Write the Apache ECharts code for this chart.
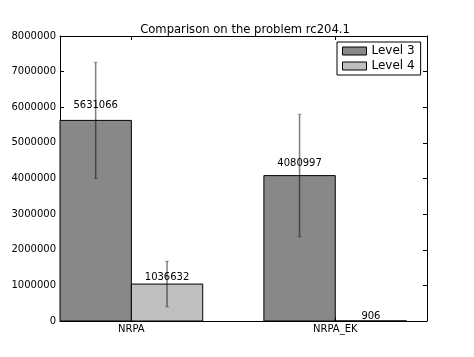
<!DOCTYPE html>
<html><head><meta charset="utf-8">
<script src="https://cdn.jsdelivr.net/npm/echarts@6/dist/echarts.min.js"></script>
<style>html,body{margin:0;padding:0;background:#fff}#c{width:474px;height:357px}</style>
</head><body><div id="c"></div>
<script>
const title = 'Comparison on the problem rc204.1';
const categories = ['NRPA', 'NRPA_EK'];
const seriesNames = ['Level 3', 'Level 4'];
const level3 = [5631066, 4080997];
const level4 = [1036632, 906];
const level3Err = [1630000, 1720000];
const level4Err = [640000, 0];
const yTicks = [0, 1000000, 2000000, 3000000, 4000000, 5000000, 6000000, 7000000, 8000000];

const W = 0.35;
const FONT = 'DejaVu Sans';
const colors = ['#888888', '#bfbfbf'];

function makeRender(color) {
  return function (params, api) {
    const x0 = api.value(0), v = api.value(1), e = api.value(2);
    const pTop = api.coord([x0, v]);
    const pBot = api.coord([x0 + W, 0]);
    const cx = (pTop[0] + pBot[0]) / 2;
    const children = [{
      type: 'rect',
      shape: { x: pTop[0], y: pTop[1], width: pBot[0] - pTop[0], height: pBot[1] - pTop[1] },
      style: { fill: color, stroke: '#000', lineWidth: 1 }
    }];
    const ly = api.coord([x0, v * 1.05])[1];
    children.push({
      type: 'text', x: cx, y: ly,
      style: { text: String(v), textAlign: 'center', textVerticalAlign: 'bottom', font: '10px "' + FONT + '"', fill: '#000' }
    });
    if (e > 0) {
      const yHi = api.coord([x0, v + e])[1], yLo = api.coord([x0, v - e])[1];
      const st = { stroke: 'rgba(0,0,0,0.5)', lineWidth: 1.5 };
      const cst = { stroke: 'rgba(0,0,0,0.35)', lineWidth: 1 };
      children.push({ type: 'line', shape: { x1: cx, y1: yHi, x2: cx, y2: yLo }, style: st });
      children.push({ type: 'line', shape: { x1: cx - 2, y1: yHi, x2: cx + 2, y2: yHi }, style: cst });
      children.push({ type: 'line', shape: { x1: cx - 2, y1: yLo, x2: cx + 2, y2: yLo }, style: cst });
    }
    return { type: 'group', children: children };
  };
}

const tickPos = categories.map((c, i) => i + W);
const chart = echarts.init(document.getElementById('c'));
const axisLineStyle = { show: true, onZero: false, lineStyle: { color: '#000', width: 1 } };
chart.setOption({
  backgroundColor: '#fff',
  animation: false,
  textStyle: { fontFamily: FONT },
  title: {
    text: title, left: 240, textAlign: 'center', top: 19,
    textStyle: { fontFamily: FONT, fontSize: 11.6, fontWeight: 'normal', color: '#000' }
  },
  legend: {
    orient: 'vertical', left: 337, top: 42,
    padding: [3, 6, 3, 5], itemGap: 3, itemWidth: 24, itemHeight: 8,
    borderColor: '#000', borderWidth: 1, backgroundColor: '#fff',
    textStyle: { fontFamily: FONT, fontSize: 12, color: '#000' },
    data: seriesNames.map((n, i) => ({ name: n, icon: 'rect', itemStyle: { color: colors[i], borderColor: '#000', borderWidth: 1 } }))
  },
  grid: { left: 60, right: 47, top: 36, bottom: 36, show: false, containLabel: false, outerBoundsMode: 'none' },
  xAxis: [{
    type: 'value', min: 0, max: 1.8, position: 'bottom',
    axisLine: axisLineStyle,
    axisTick: { show: true, inside: true, length: 4, customValues: tickPos, lineStyle: { color: '#000' } },
    axisLabel: { customValues: tickPos, formatter: v => categories[Math.round(v - W)], color: '#000', fontSize: 10, fontFamily: FONT, margin: 3 },
    splitLine: { show: false }
  }, {
    type: 'value', min: 0, max: 1.8, position: 'top',
    axisLine: axisLineStyle,
    axisTick: { show: true, inside: true, length: 4, customValues: tickPos, lineStyle: { color: '#000' } },
    axisLabel: { show: false },
    splitLine: { show: false }
  }],
  yAxis: [{
    type: 'value', min: 0, max: 8000000, interval: 1000000, position: 'left',
    name: 'Scores', nameLocation: 'middle', nameGap: 55,
    nameTextStyle: { fontFamily: FONT, fontSize: 10, color: '#000' },
    axisLine: axisLineStyle,
    axisTick: { show: true, inside: true, length: 4, lineStyle: { color: '#000' } },
    axisLabel: { color: '#000', fontSize: 10, fontFamily: FONT, margin: 4, formatter: v => String(v) },
    splitLine: { show: false }
  }, {
    type: 'value', min: 0, max: 8000000, interval: 1000000, position: 'right',
    axisLine: axisLineStyle,
    axisTick: { show: true, inside: true, length: 4, lineStyle: { color: '#000' } },
    axisLabel: { show: false },
    splitLine: { show: false }
  }],
  series: [
    {
      name: seriesNames[0], type: 'custom', xAxisIndex: 0, yAxisIndex: 0,
      itemStyle: { color: colors[0], borderColor: '#000' },
      renderItem: makeRender(colors[0]),
      encode: { x: 0, y: 1 },
      data: level3.map((v, i) => [i, v, level3Err[i]])
    },
    {
      name: seriesNames[1], type: 'custom', xAxisIndex: 0, yAxisIndex: 0,
      itemStyle: { color: colors[1], borderColor: '#000' },
      renderItem: makeRender(colors[1]),
      encode: { x: 0, y: 1 },
      data: level4.map((v, i) => [i + W, v, level4Err[i]])
    }
  ]
});
</script></body></html>
